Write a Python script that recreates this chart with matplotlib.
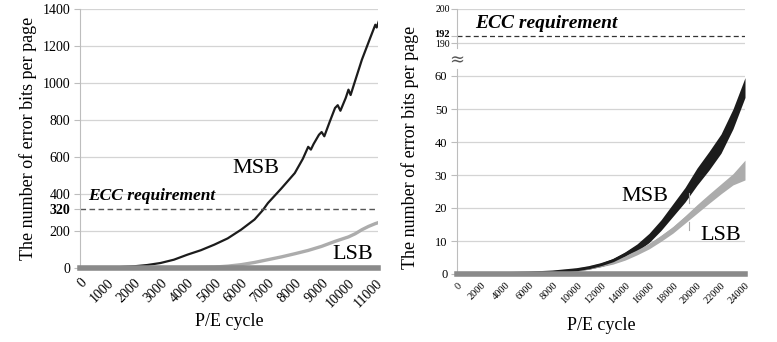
import matplotlib
matplotlib.use("Agg")
import matplotlib.pyplot as plt
import matplotlib.transforms as mtransforms
import numpy as np

plt.rcParams['font.family'] = ['Liberation Serif', 'DejaVu Serif']

# ---------------- Data: left panel ----------------
left_pe = [0, 1000, 2000, 2500, 3000, 3500, 4000, 4500, 5000, 5500, 6000, 6500, 6800,
           7000, 7500, 8000, 8300, 8500, 8600, 8700, 8900, 9000, 9100, 9300, 9500,
           9600, 9700, 9900, 10000, 10080, 10200, 10500, 10800, 11000, 11050, 11150]
left_msb = [0, 1, 9, 16, 27, 45, 72, 96, 126, 160, 207, 262, 311,
            351, 430, 513, 590, 655, 640, 670, 720, 735, 712, 790, 865,
            880, 850, 920, 964, 935, 990, 1126, 1240, 1315, 1300, 1342]
left_lsb_pe = [0, 2000, 4000, 5000, 5500, 6000, 6500, 7000, 7500, 8000, 8500, 9000,
               9500, 10000, 10250, 10500, 10750, 11000, 11150]
left_lsb = [0, 0, 2, 5, 10, 18, 30, 45, 60, 77, 95, 117,
            144, 168, 185, 207, 225, 240, 247]
left_ecc = 320
left_yticks = [0, 200, 320, 400, 600, 800, 1000, 1200, 1400]
left_xticks = list(range(0, 11001, 1000))

# ---------------- Data: right panel ----------------
right_pe = [0, 2000, 4000, 6000, 8000, 10000, 11000, 12000, 13000, 14000, 15000,
            16000, 17000, 18000, 19000, 20000, 21000, 22000, 23000, 24000]
right_msb = [0, 0.05, 0.1, 0.25, 0.6, 1.3, 1.9, 2.8, 4.0, 5.8, 8.0,
             10.9, 14.8, 19.4, 24.0, 29.5, 34.3, 39.5, 47.0, 56.5]
right_msb_spread = [0, 0, 0.05, 0.1, 0.2, 0.3, 0.4, 0.5, 0.7, 0.9, 1.1,
                    1.4, 1.6, 1.9, 2.2, 2.6, 2.8, 2.9, 3.0, 3.0]
right_lsb = [0, 0.02, 0.05, 0.2, 0.4, 1.1, 1.8, 2.6, 3.5, 4.8, 6.5,
             8.4, 10.8, 13.4, 16.5, 19.7, 22.8, 25.8, 28.7, 31.5]
right_lsb_spread = [0, 0, 0.02, 0.05, 0.1, 0.2, 0.3, 0.4, 0.5, 0.6, 0.7,
                    0.8, 0.9, 1.0, 1.1, 1.3, 1.4, 1.5, 1.7, 3.0]
right_ecc = 192
right_yticks_low = [0, 10, 20, 30, 40, 50, 60]
right_yticks_high = [190, 192, 200]
right_xticks = list(range(0, 24001, 2000))

W, H = 777, 342
fig = plt.figure(figsize=(W / 100, H / 100), dpi=100)

def fr(x0, y0, x1, y1):
    return [x0 / W, 1 - y1 / H, (x1 - x0) / W, (y1 - y0) / H]

grid_c = '#d4d4d4'
spine_c = '#bdbdbd'
axis_c = '#8a8a8a'
dark = '#1c1c1c'
light = '#acacac'

# ---------------- Left panel ----------------
ax = fig.add_axes(fr(80, 9, 378, 268))
ax.set_xlim(0, 11100)
ax.set_ylim(0, 1400)
ax.set_yticks(left_yticks)
ax.set_yticklabels([str(v) for v in left_yticks], fontsize=10)
for lbl, v in zip(ax.get_yticklabels(), left_yticks):
    if v == left_ecc:
        lbl.set_fontweight('bold')
ax.set_xticks(left_xticks)
ax.set_xticklabels([str(v) for v in left_xticks], fontsize=10, rotation=45,
                   ha='right', rotation_mode='anchor')
ax.tick_params(axis='x', length=0, pad=6)
ax.tick_params(axis='y', length=4, color=spine_c, pad=3)
ax.yaxis.grid(True, color=grid_c, lw=0.9)
for gl, v in zip(ax.yaxis.get_gridlines(), left_yticks):
    if v == left_ecc or v == 0:
        gl.set_visible(False)
ax.set_axisbelow(True)
for s in ['top', 'right']:
    ax.spines[s].set_visible(False)
ax.spines['left'].set_color(spine_c)
ax.spines['bottom'].set_color(axis_c)
ax.spines['bottom'].set_linewidth(4)
ax.plot(left_lsb_pe, left_lsb, color=light, lw=2.4, solid_capstyle='butt')
ax.plot(left_pe, left_msb, color=dark, lw=1.6)
ax.axhline(left_ecc, color='#555555', lw=1.0, ls=(0, (4, 2.5)))
ax.text(300, 345, 'ECC requirement', fontsize=12.5, fontweight='bold',
        fontstyle='italic', va='bottom', ha='left')
ax.text(6556, 540, 'MSB', fontsize=16, ha='center', va='center')
ax.text(10170, 72, 'LSB', fontsize=16, ha='center', va='center')
ax.set_xlabel('P/E cycle', fontsize=13, labelpad=2)
ax.set_ylabel('The number of error bits per page', fontsize=13, labelpad=4)

# ---------------- Right panel (broken axis) ----------------
ppu = 198 / 60.0
ppu_top = 3.4
axb = fig.add_axes(fr(457, 274 - 62 * ppu, 745, 274))
axt = fig.add_axes(fr(457, 9, 745, 9 + 11.5 * ppu_top))
axb.set_xlim(0, 24000)
axt.set_xlim(0, 24000)
axb.set_ylim(0, 62)
axt.set_ylim(188.5, 200)

axb.set_yticks(right_yticks_low)
axb.set_yticklabels([str(v) for v in right_yticks_low], fontsize=9)
axt.set_yticks(right_yticks_high)
axt.set_yticklabels([])
# draw the crowded upper tick labels by hand, nudged apart as in the reference
lab_tr = axt.get_yaxis_transform()
nudge = {190: -1.5, 192: 2.0, 200: 0.0}
for v in right_yticks_high:
    tr = lab_tr + mtransforms.ScaledTranslation(-7 / 100, nudge[v] / 100,
                                                 fig.dpi_scale_trans)
    axt.text(0, v, str(v), transform=tr, ha='right', va='center',
             fontsize=7.5 if v == right_ecc else 7,
             fontweight='bold' if v == right_ecc else 'normal', clip_on=False)
axb.set_xticks(right_xticks)
axb.set_xticklabels([str(v) for v in right_xticks], fontsize=7.5, rotation=45,
                    ha='right', rotation_mode='anchor')
axb.tick_params(axis='x', length=0, pad=5)
axt.set_xticks([])
for a in (axb, axt):
    a.tick_params(axis='y', length=4, color=spine_c, pad=3)
    a.yaxis.grid(True, color=grid_c, lw=0.9)
    a.set_axisbelow(True)
    for s in ['top', 'right']:
        a.spines[s].set_visible(False)
    a.spines['left'].set_color(spine_c)
    a.patch.set_alpha(0)
for gl, v in zip(axb.yaxis.get_gridlines(), right_yticks_low):
    if v == 0:
        gl.set_visible(False)
for gl, v in zip(axt.yaxis.get_gridlines(), right_yticks_high):
    if v == right_ecc:
        gl.set_visible(False)
axt.spines['bottom'].set_visible(False)
axb.spines['bottom'].set_color(axis_c)
axb.spines['bottom'].set_linewidth(4)

lsb_lo = np.array(right_lsb) - np.array(right_lsb_spread)
lsb_hi = np.array(right_lsb) + np.array(right_lsb_spread)
msb_lo = np.array(right_msb) - np.array(right_msb_spread)
msb_hi = np.array(right_msb) + np.array(right_msb_spread)
axb.fill_between(right_pe, lsb_lo, lsb_hi, color=light, lw=0)
axb.plot(right_pe, right_lsb, color=light, lw=2.5)
axb.fill_between(right_pe, msb_lo, msb_hi, color=dark, lw=0)
axb.plot(right_pe, right_msb, color=dark, lw=2.2)
axb.plot([19300, 19300], [21.5, 24.5], color='#aaaaaa', lw=0.8)
axb.plot([19300, 19300], [13.3, 15.8], color='#aaaaaa', lw=0.8)
axb.text(15670, 23.6, 'MSB', fontsize=16, ha='center', va='center')
axb.text(22000, 11.8, 'LSB', fontsize=16, ha='center', va='center')

axt.axhline(right_ecc, color='#333333', lw=0.9, ls=(0, (4, 2.5)))
axt.text(1500, 193.3, 'ECC requirement', fontsize=14, fontweight='bold',
         fontstyle='italic', va='bottom', ha='left')

# break marker on the axis
fig.text(457 / W, 1 - 60 / H, '≈', fontsize=13, ha='center', va='center',
         color='#555555', family=['DejaVu Serif'])

axb.set_xlabel('P/E cycle', fontsize=13, labelpad=8)
fig.text(410 / W, 1 - 147 / H, 'The number of error bits per page', fontsize=13,
         rotation=90, ha='center', va='center')

fig.savefig('out.png', dpi=100)
